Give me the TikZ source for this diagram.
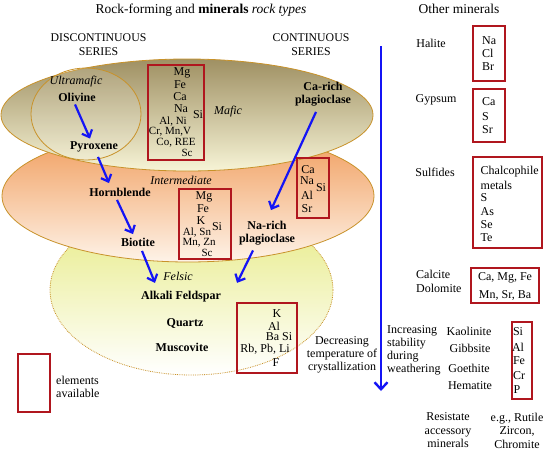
\documentclass[tikz,border=0pt]{standalone}
\usepackage{fontspec}
\setmainfont{Liberation Serif}
\usetikzlibrary{arrows.meta}
\definecolor{boxred}{HTML}{B0161E}
\definecolor{gold}{HTML}{C8922A}
\definecolor{arrowblue}{HTML}{1414F5}
\definecolor{mafictop}{HTML}{9F9063}
\definecolor{maficmid}{HTML}{D3CA9E}
\definecolor{maficbot}{HTML}{F7F4D6}
\definecolor{inttop}{HTML}{F09A58}
\definecolor{intmid}{HTML}{F7C294}
\definecolor{intbot}{HTML}{FEF3E8}
\definecolor{feltop}{HTML}{E6EA80}
\definecolor{felmid}{HTML}{F3F5C6}
\begin{document}
\begin{tikzpicture}[x=1pt,y=-1pt,
  txt/.style={inner sep=0pt, font=\fontsize{12}{13.5}\selectfont, align=center},
  lbl/.style={txt, font=\fontsize{12}{13.5}\selectfont\bfseries},
  itl/.style={txt, font=\fontsize{12}{13.5}\selectfont\itshape},
  head/.style={txt, font=\fontsize{13.5}{15}\selectfont},
  capt/.style={txt, font=\fontsize{11.8}{14}\selectfont},
  el/.style={txt},
  els/.style={txt, font=\fontsize{11}{12}\selectfont},
  elw/.style={txt, anchor=west, align=left},
  elbox/.style={draw=boxred, line width=1.8pt},
  zone/.style={draw=gold, line width=0.8pt},
  flow/.style={draw=arrowblue, line width=2.2pt, -{Straight Barb[length=6pt,width=11pt]}},
  bigflow/.style={draw=arrowblue, line width=2.4pt, -{Straight Barb[length=7pt,width=13pt]}},
]
\useasboundingbox (0,0) rectangle (545,450);

% zones
\path[zone, densely dotted, shading=axis, top color=feltop, middle color=felmid, bottom color=white]
  (191.5,290) ellipse [x radius=141.5, y radius=85];
\path[zone, shading=axis, top color=inttop, middle color=intmid, bottom color=intbot]
  (188,196) ellipse [x radius=186, y radius=66];
\path[zone, shading=axis, top color=mafictop, middle color=maficmid, bottom color=maficbot]
  (187,115) ellipse [x radius=186, y radius=56];
\path[zone, fill=white, fill opacity=0.12] (86,114) ellipse [x radius=55, y radius=46];

% headers
\node[head] (title) at (201,10) {Rock-forming and \textbf{minerals} \textit{rock types}};
\node[head] (other) at (459,9) {Other minerals};
\node[capt] (disc) at (98.5,45) {DISCONTINUOUS\\SERIES};
\node[capt] (cont) at (311,45) {CONTINUOUS\\SERIES};

% zone labels
\node[itl] (ultra) at (76,82) {Ultramafic};
\node[itl] (mafic) at (228,112) {Mafic};
\node[itl] (inter) at (181,180) {Intermediate};
\node[itl] (felsic) at (178,276) {Felsic};

% minerals
\node[lbl] (olivine) at (77,97) {Olivine};
\node[lbl] (pyroxene) at (94,147) {Pyroxene};
\node[lbl] (hornblende) at (120,192) {Hornblende};
\node[lbl] (biotite) at (138,242) {Biotite};
\node[lbl] (carich) at (323,94) {Ca-rich\\plagioclase};
\node[lbl] (narich) at (267,233) {Na-rich\\plagioclase};
\node[lbl] (alkali) at (181,297) {Alkali Feldspar};
\node[lbl] (quartz) at (185,323) {Quartz};
\node[lbl] (muscovite) at (182,347) {Muscovite};

% arrows
\draw[flow] ([shift={(-2,3)}]olivine.south) -- ([shift={(-4,-3)}]pyroxene.north);
\draw[flow] ([shift={(4,4.5)}]pyroxene.south) -- ([shift={(-11,-4.5)}]hornblende.north);
\draw[flow] ([shift={(-3,3.5)}]hornblende.south) -- ([shift={(-5,-3.5)}]biotite.north);
\draw[flow] ([shift={(4,4.5)}]biotite.south) -- ([shift={(14,-8.5)}]alkali.north west);
\draw[flow] ([shift={(-7,5.5)}]carich.south) -- ([shift={(4,-10.5)}]narich.north);
\draw[flow] ([shift={(-14,5)}]narich.south) -- ([shift={(16,-8.5)}]alkali.north east);

% mafic box
\draw[elbox] (148,65) rectangle (204,160);
\node[el] (m1) at (182,73) {Mg};
\node[el] (m2) at (180,85) {Fe};
\node[el] (m3) at (180,97) {Ca};
\node[el] (m4) at (181,109) {Na};
\node[el] (m5) at (198,115) {Si};
\node[els] (m6) at (173,121.5) {Al, Ni};
\node[els] (m7) at (170,132) {Cr, Mn,V};
\node[els] (m8) at (176,142.5) {Co, REE};
\node[els] (m9) at (187,153) {Sc};

% Ca-Na box
\draw[elbox] (297,158) rectangle (329,218);
\node[el] (c1) at (308,170) {Ca};
\node[el] (c2) at (307,181) {Na};
\node[el] (c3) at (321,188) {Si};
\node[el] (c4) at (307,195) {Al};
\node[el] (c5) at (307,209) {Sr};

% intermediate box
\draw[elbox] (179,189) rectangle (231,259);
\node[el] (i1) at (204,197) {Mg};
\node[el] (i2) at (203,209) {Fe};
\node[el] (i3) at (201,221) {K};
\node[el] (i4) at (217,227) {Si};
\node[els] (i5) at (197,232.5) {Al, Sn};
\node[els] (i6) at (199,243) {Mn, Zn};
\node[els] (i7) at (207,253) {Sc};

% felsic box
\draw[elbox] (237,303) rectangle (297,373);
\node[el] (f1) at (277,314) {K};
\node[el] (f2) at (274,326) {Al};
\node[el] (f3) at (279,337) {Ba Si};
\node[el] (f4) at (265,349) {Rb, Pb, Li};
\node[el] (f5) at (276,363) {F};

% decreasing temperature
\node[txt, font=\fontsize{12}{13}\selectfont] (decr) at (342,355) {Decreasing\\temperature of\\crystallization};
\coordinate (vtop) at (381,46);
\coordinate (vbot) at (381,391);
\draw[bigflow] (vtop) -- (vbot);

% legend
\draw[elbox] (18,354) rectangle (50,412);
\node[elw, font=\fontsize{12}{12.5}\selectfont] (legend) at (56,387) {elements\\available};

% other minerals
\node[txt] (halite) at (431,43) {Halite};
\draw[elbox] (473,26) rectangle (505,81);
\node[elw] (h1) at (482,41) {Na};
\node[elw] (h2) at (482,53) {Cl};
\node[elw] (h3) at (482,67) {Br};

\node[txt] (gypsum) at (436,100) {Gypsum};
\draw[elbox] (473,89) rectangle (505,142);
\node[elw] (g1) at (482,102) {Ca};
\node[elw] (g2) at (482,117) {S};
\node[elw] (g3) at (482,130) {Sr};

\node[txt] (sulfides) at (435,172) {Sulfides};
\draw[elbox] (473,157) rectangle (542,248);
\node[elw] (s1) at (480.5,172) {Chalcophile};
\node[elw] (s2) at (480.5,185) {metals};
\node[elw] (s3) at (480.5,198) {S};
\node[elw] (s4) at (480.5,212) {As};
\node[elw] (s5) at (480.5,225) {Se};
\node[elw] (s6) at (480.5,238) {Te};

\node[elw, font=\fontsize{12}{14}\selectfont] (calcite) at (416,281) {Calcite\\Dolomite};
\draw[elbox] (471,268) rectangle (539,303);
\node[el] (k1) at (505,278) {Ca, Mg, Fe};
\node[el] (k2) at (505,295) {Mn, Sr, Ba};

\node[elw, font=\fontsize{12}{13}\selectfont] (incr) at (387,350.5) {Increasing\\stability\\during\\weathering};
\node[txt] (kaol) at (469,331) {Kaolinite};
\node[txt] (gibb) at (470,348) {Gibbsite};
\node[txt] (goet) at (469,368) {Goethite};
\node[txt] (hema) at (470,386) {Hematite};
\draw[elbox] (512,322) rectangle (532,399);
\node[el] (w1) at (518,332) {Si};
\node[el] (w2) at (518,347) {Al};
\node[el] (w3) at (519,361) {Fe};
\node[el] (w4) at (519,376) {Cr};
\node[el] (w5) at (517,390) {P};

\node[txt, font=\fontsize{12}{13.5}\selectfont] (resist) at (448,430.5) {Resistate\\accessory\\minerals};
\node[txt, font=\fontsize{12}{13.5}\selectfont] (eg) at (517,430.5) {e.g., Rutile\\Zircon,\\Chromite};
\end{tikzpicture}
\end{document}
